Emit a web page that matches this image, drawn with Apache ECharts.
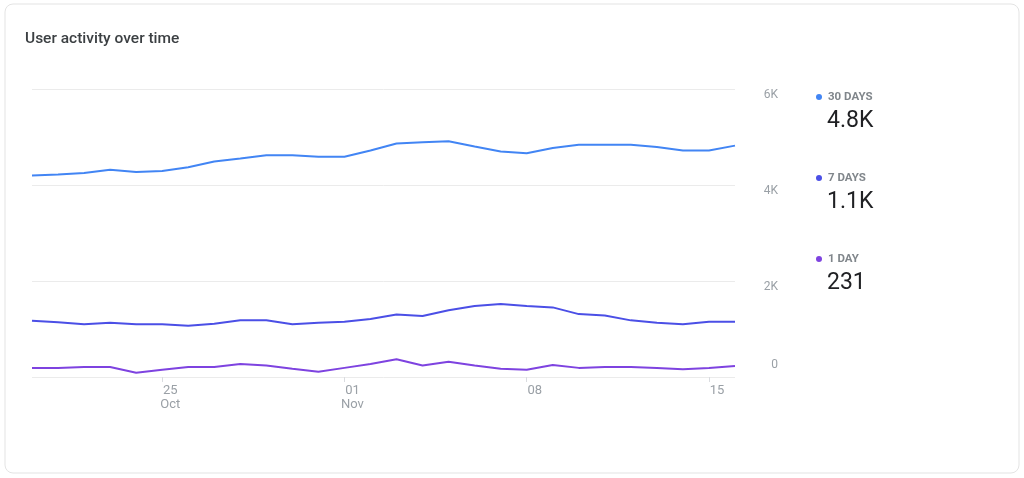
<!DOCTYPE html>
<html><head><meta charset="utf-8">
<script src="https://cdn.jsdelivr.net/npm/echarts@6/dist/echarts.min.js"></script>
<style>html,body{margin:0;padding:0;background:#fff}#c{width:1024px;height:478px}</style>
</head><body><div id="c"></div>
<script>
var dates = ['Oct 20','Oct 21','Oct 22','Oct 23','Oct 24','Oct 25','Oct 26','Oct 27','Oct 28','Oct 29','Oct 30','Oct 31',
 'Nov 01','Nov 02','Nov 03','Nov 04','Nov 05','Nov 06','Nov 07','Nov 08','Nov 09','Nov 10','Nov 11','Nov 12','Nov 13','Nov 14','Nov 15','Nov 16'];
var days30 = [4200,4220,4250,4320,4270,4290,4370,4490,4550,4620,4620,4590,4590,4720,4865,4890,4910,4800,4700,4660,4770,4840,4840,4840,4790,4720,4720,4820];
var days7 = [1170,1140,1100,1130,1100,1100,1070,1110,1180,1180,1100,1130,1150,1210,1300,1270,1390,1480,1520,1480,1450,1310,1280,1180,1130,1100,1150,1150];
var days1 = [190,190,210,210,90,150,210,210,270,240,170,110,190,270,370,240,320,240,170,150,250,190,210,210,190,160,190,231];
var tickLabels = {'Oct 25':'25\nOct','Nov 01':'01\nNov','Nov 08':'08','Nov 15':'15'};
var legendItems = [['30 DAYS','4.8K','#4285f4'],['7 DAYS','1.1K','#4b4fe6'],['1 DAY','231','#7e43e0']];

var chart = echarts.init(document.getElementById('c'));
var graphics = [
 {type:'rect',shape:{x:5,y:4,width:1014,height:469,r:8},style:{fill:'#fff',stroke:'#e3e3e3',lineWidth:1},z:-10},
 {type:'text',left:25,top:31,style:{text:'User activity over time',font:'500 15.5px Roboto, sans-serif',fill:'#3c4043'}},
 {type:'text',x:778,y:359,style:{text:'0',font:'12px Roboto, sans-serif',fill:'#9aa0a6',align:'right'}}
];
legendItems.forEach(function(it,i){
  var y = 97 + i*81;
  graphics.push({type:'circle',shape:{cx:819,cy:y,r:3},style:{fill:it[2]}});
  graphics.push({type:'text',x:828,y:y-6,style:{text:it[0],font:'bold 11.5px Roboto, sans-serif',fill:'#80868b'}});
  graphics.push({type:'text',x:827,y:y+13,style:{text:it[1],font:'23px Roboto, sans-serif',fill:'#202124'}});
});
function mk(name,data,color){return {name:name,type:'line',data:data,symbol:'none',smooth:false,lineStyle:{color:color,width:2},itemStyle:{color:color}};}
chart.setOption({
  animation:false,
  grid:{left:32,right:289,top:89,bottom:101},
  graphic:graphics,
  xAxis:{type:'category',data:dates,boundaryGap:false,
    axisLine:{show:false},
    axisTick:{show:true,length:5,lineStyle:{color:'#dadce0'},interval:function(i,v){return !!tickLabels[v];}},
    axisLabel:{interval:function(i,v){return !!tickLabels[v];},formatter:function(v){return tickLabels[v]||'';},color:'#9aa0a6',fontSize:13,lineHeight:14,fontFamily:'Roboto, sans-serif',margin:7,padding:[0,0,0,16]}},
  yAxis:{type:'value',position:'right',min:0,max:6000,interval:2000,
    axisLine:{show:false},axisTick:{show:false},
    splitLine:{lineStyle:{color:'#ebebeb'}},
    axisLabel:{align:'right',margin:43,verticalAlign:'top',color:'#9aa0a6',fontSize:12,fontFamily:'Roboto, sans-serif',
      formatter:function(v){return v===0?'':(v/1000)+'K';}}},
  series:[mk('30 DAYS',days30,'#4285f4'),mk('7 DAYS',days7,'#4b4fe6'),mk('1 DAY',days1,'#7e43e0')]
});
</script></body></html>
